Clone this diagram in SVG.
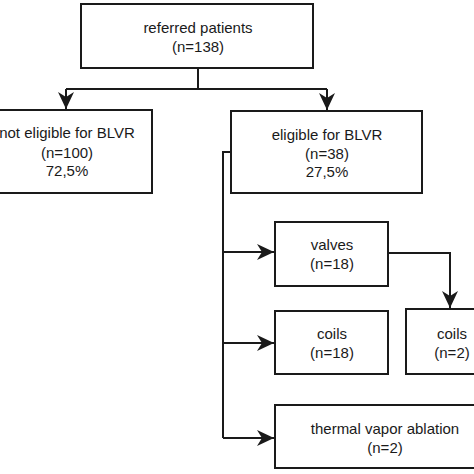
<svg xmlns="http://www.w3.org/2000/svg" width="474" height="474" viewBox="0 0 474 474">
<style>
.box{fill:#fff;stroke:#1a1a1a;stroke-width:2}
.ln{fill:none;stroke:#1a1a1a;stroke-width:2}
text{font-family:"Liberation Sans",Arial,sans-serif;font-size:15px;fill:#1a1a1a;text-anchor:middle}
</style>
<defs>
<marker id="arr" markerUnits="userSpaceOnUse" markerWidth="18" markerHeight="18" viewBox="0 0 18 18" refX="17" refY="9" orient="auto">
<path d="M0,1 L17,9 L0,17 L5,9 z" fill="#1a1a1a"/>
</marker>
</defs>
<rect width="474" height="474" fill="#fff"/>
<g id="connectors">
<path class="ln" d="M198,68 V89 M66,89 H327"/>
<path class="ln" d="M66,89 V109" marker-end="url(#arr)"/>
<path class="ln" d="M327,89 V110" marker-end="url(#arr)"/>
<path class="ln" d="M231,152 H223 V438"/>
<path class="ln" d="M223,252 H274" marker-end="url(#arr)"/>
<path class="ln" d="M223,343 H274" marker-end="url(#arr)"/>
<path class="ln" d="M223,438 H274" marker-end="url(#arr)"/>
<path class="ln" d="M388,253 H450 V308" marker-end="url(#arr)"/>
</g>
<g id="n-referred">
<rect class="box" x="81" y="4" width="232" height="64"/>
<text x="198" y="33">referred patients</text>
<text x="198" y="52">(n=138)</text>
</g>
<g id="n-not-eligible">
<rect class="box" x="-18" y="110" width="170" height="83"/>
<text x="67" y="138">not eligible for BLVR</text>
<text x="67" y="158">(n=100)</text>
<text x="67" y="176">72,5%</text>
</g>
<g id="n-eligible">
<rect class="box" x="231" y="111" width="191" height="82"/>
<text x="327" y="140">eligible for BLVR</text>
<text x="327" y="159">(n=38)</text>
<text x="327" y="177">27,5%</text>
</g>
<g id="n-valves">
<rect class="box" x="275" y="222" width="113" height="64"/>
<text x="332" y="250">valves</text>
<text x="332" y="269">(n=18)</text>
</g>
<g id="n-coils18">
<rect class="box" x="275" y="311" width="113" height="63"/>
<text x="332" y="339">coils</text>
<text x="332" y="358">(n=18)</text>
</g>
<g id="n-coils2">
<rect class="box" x="406" y="309" width="92" height="65"/>
<text x="452" y="339">coils</text>
<text x="452" y="358">(n=2)</text>
</g>
<g id="n-thermal">
<rect class="box" x="275" y="405" width="220" height="63"/>
<text x="385" y="434">thermal vapor ablation</text>
<text x="385" y="453">(n=2)</text>
</g>
</svg>
